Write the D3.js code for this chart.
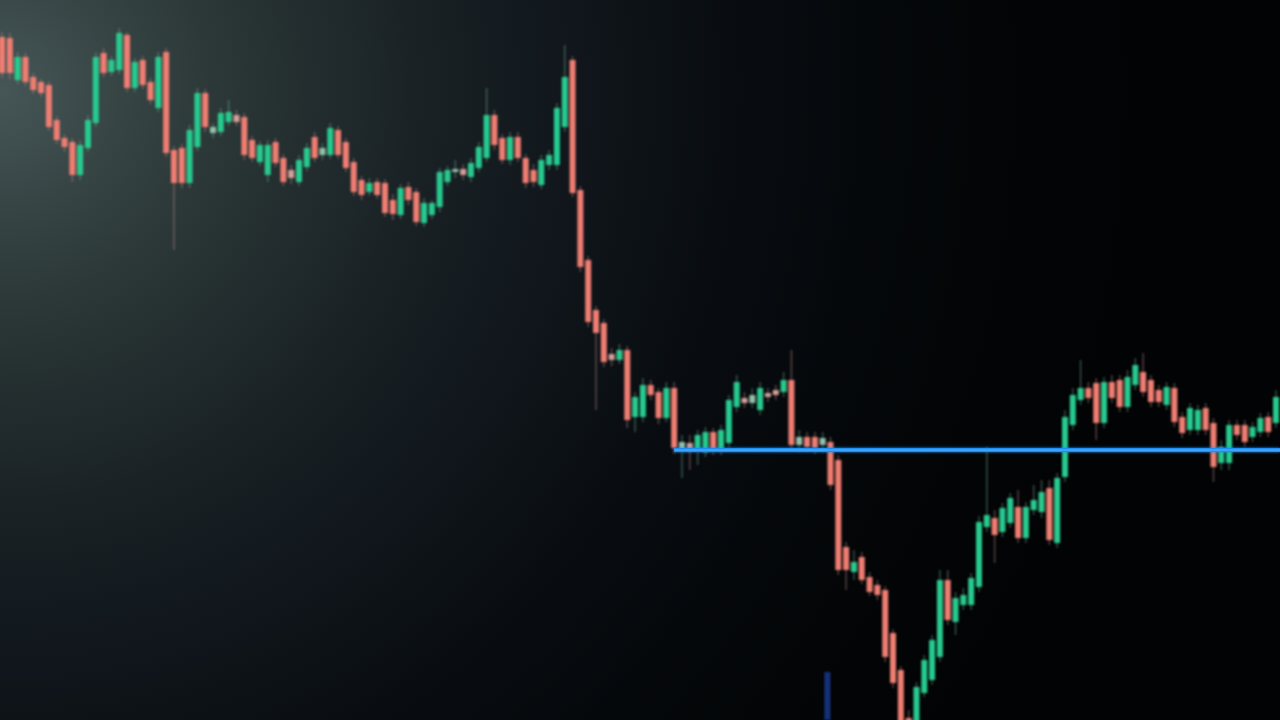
<!DOCTYPE html>
<html>
<head>
<meta charset="utf-8">
<script src="https://cdn.jsdelivr.net/npm/d3@7/dist/d3.min.js"></script>
<style>
html,body{margin:0;padding:0;background:#05080a;overflow:hidden;}
svg{display:block;}
</style>
</head>
<body>
<svg id="chart" width="1280" height="720"></svg>
<script>
// ---- data (price units) ----
const open  = [963,962,920,943,923,918,915,880,862,858,825,852,877,947,928,930,965,912,940,918,892,948,850,852,817,853,907,867,868,878,885,883,860,838,825,858,842,830,818,833,863,845,845,870,858,838,820,808,818,817,800,785,813,808,777,785,793,818,828,831,823,832,842,885,862,840,863,842,830,815,835,835,873,940,810,740,690,677,646,640,650,583,583,615,608,582,612,550,557,550,548,568,550,557,593,602,597,590,607,610,608,620,555,563,563,555,558,540,453,428,443,423,415,410,367,330,282,276,307,320,343,420,378,395,395,413,473,482,468,477,493,462,490,488,512,457,523,575,600,612,617,577,618,620,593,615,628,620,610,595,612,583,570,570,592,577,537,537,575,575,563,568,583,577];
const close = [927,927,943,918,910,907,873,860,853,825,855,880,943,927,940,967,912,938,915,900,943,847,817,817,870,907,873,873,887,888,878,845,842,855,855,837,818,822,840,852,842,852,872,845,832,808,805,817,805,787,786,812,800,778,797,797,828,830,831,825,837,853,885,855,840,863,842,817,818,840,845,892,923,807,733,678,667,638,640,650,580,603,615,605,582,612,552,558,549,565,568,550,570,600,618,597,605,612,603,605,620,555,563,553,552,562,515,430,430,438,420,408,405,343,317,275,272,313,340,360,420,380,402,405,422,478,485,465,492,502,462,493,500,508,460,522,583,605,612,602,577,618,602,593,623,635,608,598,598,613,578,567,592,590,570,533,553,575,565,558,573,582,568,603];
const high  = [968,967,948,947,927,921,919,884,866,862,860,885,948,952,944,972,968,942,944,922,948,952,854,856,875,912,911,877,892,900,890,887,864,859,860,862,846,835,845,857,868,857,877,874,862,842,824,822,822,821,806,816,818,812,802,800,832,834,840,836,842,858,912,890,866,868,868,846,836,845,850,897,955,944,814,744,694,681,652,656,654,608,622,620,612,618,618,565,565,570,573,572,575,605,625,608,612,618,612,615,628,650,570,568,568,568,563,545,458,450,448,428,420,414,371,334,290,318,345,365,430,430,408,412,427,484,553,490,497,507,510,498,515,520,520,527,590,612,640,618,622,623,625,625,630,642,647,625,615,618,617,588,597,595,597,582,560,580,580,580,578,587,588,610];
const low   = [922,921,916,914,906,903,869,856,848,818,820,848,873,923,924,926,908,908,911,896,888,843,750,812,812,849,868,862,864,874,874,840,838,834,818,833,814,816,814,829,838,840,841,841,828,804,800,804,801,783,780,781,795,774,773,781,788,814,822,820,818,828,838,850,836,835,838,812,813,811,830,830,868,803,728,673,590,633,634,636,572,568,578,600,576,578,546,522,530,535,543,545,545,552,588,592,592,585,598,600,603,550,548,548,546,548,510,425,410,420,416,404,400,338,312,268,265,270,303,315,338,375,365,390,390,408,468,437,463,472,457,457,485,482,455,452,518,570,595,597,560,572,597,588,588,610,603,593,593,590,573,562,565,565,565,518,530,530,560,553,558,563,563,572];
const supportLevel = 550;   // horizontal level line
const supportStart = 86;    // candle index where the level starts
const markerIndex = [105.6];  // faint blue bar near the bottom
const markerTop = [328];

// ---- layout ----
const W = 1280, H = 720;
const svg = d3.select("#chart");
const defs = svg.append("defs");

const bg = defs.append("radialGradient").attr("id","bg")
  .attr("cx",0).attr("cy",90).attr("r",1150).attr("gradientUnits","userSpaceOnUse");
[[0,"#465656"],[0.1,"#374545"],[0.22,"#283333"],[0.36,"#1a2226"],[0.5,"#10161b"],[0.65,"#080c10"],[0.85,"#030507"],[1,"#020304"]]
  .forEach(s=>bg.append("stop").attr("offset",s[0]).attr("stop-color",s[1]));
svg.append("rect").attr("width",W).attr("height",H).attr("fill","url(#bg)");

const blur = defs.append("filter").attr("id","soft")
  .attr("filterUnits","userSpaceOnUse").attr("x",-20).attr("y",-20).attr("width",W+40).attr("height",H+40);
blur.append("feGaussianBlur").attr("stdDeviation",1.1);

const glow = defs.append("filter").attr("id","glow")
  .attr("filterUnits","userSpaceOnUse").attr("x",0).attr("y",0).attr("width",W).attr("height",H);
glow.append("feGaussianBlur").attr("in","SourceGraphic").attr("stdDeviation",1.6).attr("result","b");
const m = glow.append("feMerge");
m.append("feMergeNode").attr("in","b");
m.append("feMergeNode").attr("in","SourceGraphic");

defs.append("clipPath").attr("id","clip").append("rect").attr("width",W).attr("height",H);

const n = open.length;
const x = d3.scaleLinear().domain([0, n-1]).range([2, 1276]);
const y = d3.scaleLinear().domain([280, 1000]).range([H, 0]);

const data = d3.range(n).map(i=>({i, o:open[i], c:close[i], h:high[i], l:low[i]}));
const up = "#26c98e", dn = "#ee7d72";

const g = svg.append("g").attr("clip-path","url(#clip)");

// markers
g.append("g").attr("filter","url(#soft)").selectAll("rect").data(markerIndex).join("rect")
  .attr("x",(d)=>x(d)-3).attr("width",6)
  .attr("y",(d,k)=>y(markerTop[k])).attr("height",(d,k)=>H - y(markerTop[k]))
  .attr("fill","#1a3c96").attr("opacity",0.8);

const cg = g.append("g").attr("filter","url(#soft)");
// wicks
cg.selectAll("line.wick").data(data).join("line").attr("class","wick")
  .attr("x1",d=>x(d.i)).attr("x2",d=>x(d.i))
  .attr("y1",d=>y(d.h)).attr("y2",d=>y(d.l))
  .attr("stroke",d=>d.c>=d.o?"#6fa890":"#b88a86").attr("stroke-width",1.4).attr("opacity",0.5);
// bodies
cg.selectAll("rect.body").data(data).join("rect").attr("class","body")
  .attr("x",d=>x(d.i)-3).attr("width",6)
  .attr("y",d=>y(Math.max(d.o,d.c)))
  .attr("height",d=>Math.max(2, Math.abs(y(d.o)-y(d.c))))
  .attr("fill",d=>{
    const diff = Math.abs(d.o-d.c);
    if (diff < 9) return d.c>=d.o ? "#93bfa9" : "#d29e98";
    return d.c>=d.o?up:dn;
  });

// support line (drawn as a rect so the glow filter has a real area)
const ly = y(supportLevel);
g.append("rect")
  .attr("x",x(supportStart)).attr("width",W - x(supportStart))
  .attr("y",ly-2).attr("height",4)
  .attr("fill","#1d8ef8")
  .attr("filter","url(#glow)");
g.append("rect")
  .attr("x",x(supportStart)).attr("width",W - x(supportStart))
  .attr("y",ly-0.7).attr("height",1.4)
  .attr("fill","#6cc0ff").attr("opacity",0.6);
</script>
</body>
</html>
